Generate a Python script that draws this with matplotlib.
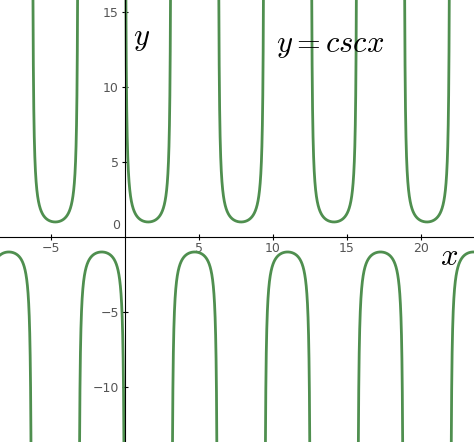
import numpy as np
import matplotlib.pyplot as plt

plt.rcParams['mathtext.fontset'] = 'cm'

# view window
x_min, x_max = -8.45, 23.6
y_min, y_max = -13.67, 15.8
x_ticks = [-5, 5, 10, 15, 20]
y_ticks = [-10, -5, 5, 10, 15]

fig = plt.figure(figsize=(4.74, 4.42), dpi=100)
ax = fig.add_axes([0, 0, 1, 1])

# y = csc x, drawn piece by piece between the asymptotes
for k in range(-3, 8):
    x = np.linspace(k * np.pi + 1e-3, (k + 1) * np.pi - 1e-3, 2000)
    y = 1 / np.sin(x)
    ax.plot(x, y, color='#4f8f4f', lw=2)

ax.set_xlim(x_min, x_max)
ax.set_ylim(y_min, y_max)
for s in ['top', 'right']:
    ax.spines[s].set_visible(False)
ax.spines['left'].set_position(('data', 0))
ax.spines['bottom'].set_position(('data', 0))
ax.set_xticks(x_ticks)
ax.set_yticks(y_ticks)
ax.set_xticklabels([str(t).replace('-', '−') for t in x_ticks])
ax.set_yticklabels([str(t).replace('-', '−') for t in y_ticks])
ax.tick_params(direction='inout', length=5, labelsize=9, labelcolor='#555555')
ax.tick_params(axis='x', pad=1)
ax.tick_params(axis='y', pad=2)
ax.text(-0.3, 0.3, '0', ha='right', va='bottom', fontsize=9, color='#555555')

ax.text(0.55, 12.8, '$y$', fontsize=22)
ax.text(21.3, -1.9, '$x$', fontsize=22)
ax.text(10.2, 12.3, '$y = cscx$', fontsize=22)

fig.savefig('out.png', dpi=100)
